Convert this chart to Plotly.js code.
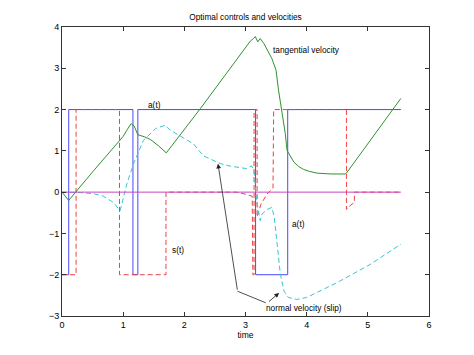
<!DOCTYPE html>
<html>
<head>
<meta charset="utf-8">
<script src="https://cdn.plot.ly/plotly-3.0.1.min.js"></script>
<style>html,body{margin:0;padding:0;background:#fff;}#chart{width:474px;height:355px;}</style>
</head>
<body>
<div id="chart"></div>
<script>
// a(t): bang-bang control, switching times and values (step 'hv')
const aTimes = [0, 0.11, 1.16, 1.24, 3.165, 3.69, 5.54];
const aValues = [-2, 2, -2, 2, -2, 2, 2];

// s(t): dashed red control
const sTimes = [0, 0.23, 0.23, 0.94, 0.94, 1.70, 1.70, 2.85, 3.0, 3.11, 3.12, 3.14, 3.14, 3.19, 3.19, 3.25, 3.35, 3.45, 3.46, 4.65, 4.65, 4.68, 4.78, 4.78, 5.54];
const sValues = [-2, -2, 2, 2, -2, -2, 0, 0, -0.05, -0.1, -2, -2, 2, 2, -0.6, -0.3, -0.05, 0.1, 2, 2, -0.42, -0.36, -0.25, 0, 0];

// tangential velocity
const vtTimes = [0, 0.11, 0.5, 0.925, 1.0, 1.06, 1.13, 1.18, 1.24, 1.35, 1.45, 1.58, 1.705, 2.26, 2.87, 3.08, 3.13, 3.16, 3.20, 3.24, 3.3, 3.43, 3.5, 3.54, 3.6, 3.65, 3.68, 3.74, 3.79, 3.87, 3.95, 4.05, 4.17, 4.4, 4.63, 4.65, 5.1, 5.54];
const vtValues = [0, -0.2, 0.49, 1.24, 1.35, 1.5, 1.66, 1.6, 1.39, 1.34, 1.27, 1.12, 0.95, 2.02, 3.22, 3.66, 3.72, 3.77, 3.64, 3.72, 3.6, 3.24, 2.95, 2.47, 1.9, 1.42, 1.01, 0.84, 0.73, 0.62, 0.55, 0.5, 0.46, 0.44, 0.44, 0.46, 1.37, 2.27];

// normal velocity (slip)
const vnTimes = [0, 0.3, 0.52, 0.68, 0.84, 0.95, 1.06, 1.17, 1.33, 1.53, 1.69, 1.77, 2.0, 2.15, 2.31, 2.59, 2.75, 2.86, 3.02, 3.1, 3.14, 3.18, 3.24, 3.27, 3.35, 3.43, 3.47, 3.57, 3.63, 3.7, 3.84, 4.0, 4.5, 5.04, 5.54];
const vnValues = [0, -0.01, -0.04, -0.1, -0.25, -0.45, 0.2, 0.69, 1.25, 1.54, 1.62, 1.5, 1.3, 1.17, 0.88, 0.69, 0.63, 0.6, 0.57, 0.64, 0.5, -0.2, -0.69, -0.53, -0.42, -0.37, -0.6, -1.99, -2.4, -2.55, -2.6, -2.55, -2.19, -1.75, -1.26];

// zero reference line
const zTimes = [0, 5.54];
const zValues = [0, 0];

const xTicks = [0, 1, 2, 3, 4, 5, 6];
const yTicks = [-3, -2, -1, 0, 1, 2, 3, 4];

const FONT = 'Liberation Sans, Arial, sans-serif';
const dashPat = '5px,3px';

const traces = [
  {x: aTimes, y: aValues, mode: 'lines', line: {shape: 'hv', color: '#4848ff', width: 1}},
  {x: sTimes, y: sValues, mode: 'lines', line: {color: '#f04040', width: 1, dash: dashPat}},
  {x: vtTimes, y: vtValues, mode: 'lines', line: {color: '#2f922f', width: 1}},
  {x: vnTimes, y: vnValues, mode: 'lines', line: {color: '#3cc4d0', width: 1, dash: dashPat}},
  {x: zTimes, y: zValues, mode: 'lines', line: {color: '#c844c8', width: 1}}
];

const txt = (x, y, t) => ({x, y, xref: 'x', yref: 'y', text: t, showarrow: false,
  font: {family: FONT, size: 8.3, color: '#000'}});
const arrow = (x, y, ax, ay) => ({x, y, ax, ay, xref: 'x', yref: 'y', axref: 'x', ayref: 'y',
  text: '', showarrow: true, arrowhead: 2, arrowsize: 1.2, arrowwidth: 0.8, arrowcolor: '#222'});

const layout = {
  width: 474, height: 355,
  margin: {l: 62, r: 45, t: 27, b: 39, pad: 0},
  paper_bgcolor: '#fff', plot_bgcolor: '#fff',
  showlegend: false,
  font: {family: FONT, size: 8, color: '#000'},
  title: {text: 'Optimal controls and velocities', font: {family: FONT, size: 8.3, color: '#000'},
          xref: 'paper', x: 0.5, xanchor: 'center', yref: 'container', y: 1 - 17/355, yanchor: 'middle'},
  xaxis: {range: [0, 6], tickvals: xTicks, ticks: 'inside', ticklen: 4, tickcolor: '#333',
          showline: true, linecolor: '#333', linewidth: 1, mirror: 'ticks', showgrid: false, zeroline: false,
          tickfont: {family: FONT, size: 9, color: '#000'},
          title: {text: 'time', font: {family: FONT, size: 8.5, color: '#000'}, standoff: 1}},
  yaxis: {range: [-3, 4], tickvals: yTicks, ticks: 'inside', ticklen: 4, tickcolor: '#333',
          showline: true, linecolor: '#333', linewidth: 1, mirror: 'ticks', showgrid: false, zeroline: false,
          tickfont: {family: FONT, size: 9, color: '#000'}},
  annotations: [
    txt(1.52, 2.1, 'a(t)'),
    txt(3.99, 3.44, 'tangential velocity'),
    txt(1.89, -1.4, 's(t)'),
    txt(3.86, -0.76, 'a(t)'),
    txt(3.96, -2.81, 'normal velocity (slip)'),
    arrow(2.55, 0.69, 2.87, -2.40),
    arrow(3.55, -2.44, 3.36, -2.68)
  ],
  shapes: [
    {type: 'line', xref: 'x', yref: 'y', x0: 3.33, y0: -2.68, x1: 2.87, y1: -2.40, line: {color: '#222', width: 0.8}}
  ]
};

Plotly.newPlot('chart', traces, layout, {staticPlot: true, displayModeBar: false});
</script>
</body>
</html>
